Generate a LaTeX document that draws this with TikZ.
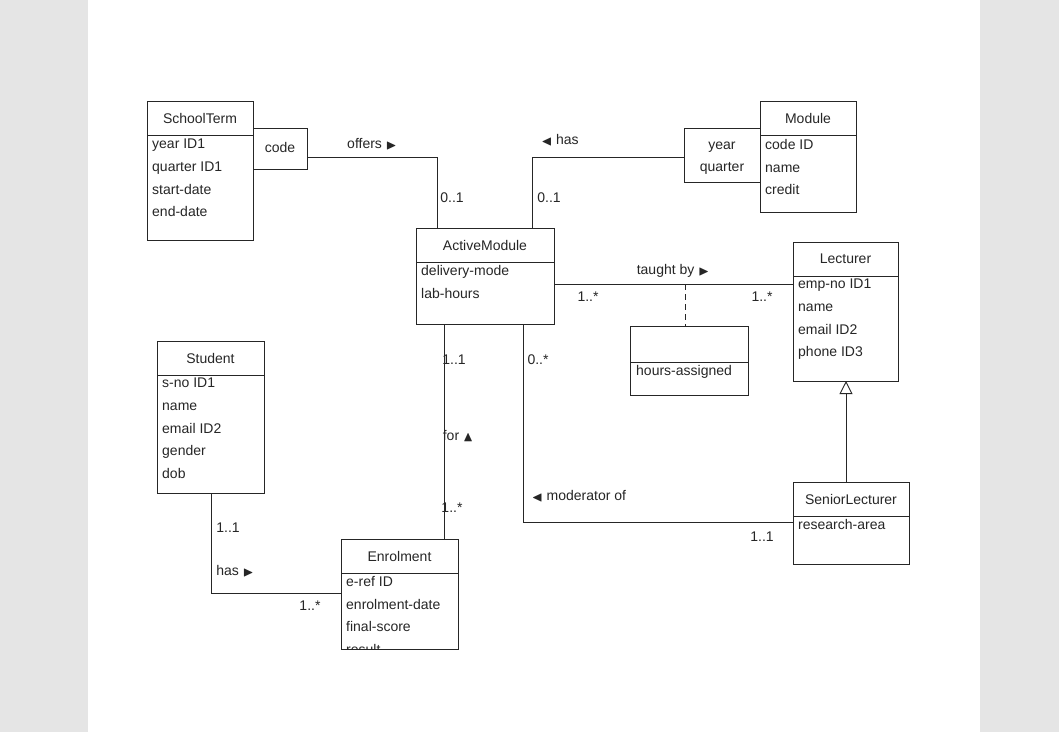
\documentclass[tikz,border=0pt]{standalone}
\usepackage{amssymb}
\usepackage{fontspec}
\setmainfont{Liberation Sans}
\usetikzlibrary{arrows.meta}
\begin{document}
\begin{tikzpicture}[x=1pt,y=-1pt,
  ln/.style={draw=black!85,line width=0.9pt},
  lbl/.style={inner sep=0pt,font=\fontsize{14}{16}\selectfont,text=black!85},
  ent/.style={inner sep=0pt,anchor=north west,align=left,font=\fontsize{14}{22.7}\selectfont,text=black!85}]
\fill[black!10] (0,0) rectangle (1059,732);
\fill[white] (88,0) rectangle (980,732);
\useasboundingbox (0,0) rectangle (1059,732);
\newcommand{\myent}[7]{% name x1 y1 x2 y2 ydiv title
  \draw[ln,fill=white] (#2,#3) rectangle (#4,#5);
  \draw[ln] (#2,#6) -- (#4,#6);
  \node[lbl] (#1) at ({(#2+#4)/2},{(#3+#6)/2}) {#7};}
\myent{st}{147}{101}{253}{240}{135}{SchoolTerm}
\node[ent] at (152,139) {year ID1\\quarter ID1\\start-date\\end-date};
\draw[ln,fill=white] (253,128) rectangle (307,169);
\node[lbl] (code) at (280,147) {code};
\myent{mod}{760}{101}{856}{212}{135}{Module}
\node[ent] at (765,139) {code ID\\name\\credit};
\draw[ln,fill=white] (684,128) rectangle (760,182);
\node[lbl,align=center,font=\fontsize{14}{22}\selectfont] (yq) at (722,158) {year\\quarter};
\myent{am}{416}{228}{554}{324}{262}{ActiveModule}
\node[ent] at (421,265) {delivery-mode\\lab-hours};
\myent{lec}{793}{242}{898}{381}{276}{Lecturer}
\node[ent] at (798,279) {emp-no ID1\\name\\email ID2\\phone ID3};
\myent{ha}{630}{326}{748}{395}{362}{}
\node[ent] at (636,365) {hours-assigned};
\myent{stu}{157}{341}{264}{493}{375}{Student}
\node[ent] at (162,378) {s-no ID1\\name\\email ID2\\gender\\dob};
\myent{enr}{341}{539}{458}{649}{573}{Enrolment}
\begin{scope}
\clip (341,573) rectangle (458,649);
\node[ent] at (346,576) {e-ref ID\\enrolment-date\\final-score\\result};
\end{scope}
\myent{sl}{793}{482}{909}{564}{516}{SeniorLecturer}
\node[ent] at (798,519) {research-area};
% connectors
\coordinate (c1) at (437,157);
\draw[ln] (307,157) -- (c1) -- (437,228);
\coordinate (c2) at (532,157);
\draw[ln] (684,157) -- (c2) -- (532,228);
\draw[ln] (554,284) -- (793,284);
\draw[ln,dash pattern=on 6pt off 4pt] (685,284) -- (685,326);
\draw[ln] (444,324) -- (444,539);
\coordinate (c3) at (523,522);
\draw[ln] (523,324) -- (c3) -- (793,522);
\coordinate (c4) at (211,593);
\draw[ln] (211,493) -- (c4) -- (341,593);
\draw[ln,-{Triangle[open,length=13pt,width=13pt,fill=white]}] (846,482) -- (846,381);
% labels
\node[lbl] at (372,144) {offers \raisebox{-0.5pt}{$\blacktriangleright$}};
\node[lbl] at (452,198) {0..1};
\node[lbl] at (560,140) {\raisebox{-0.5pt}{$\blacktriangleleft$} has};
\node[lbl] at (549,198) {0..1};
\node[lbl] at (673,271) {taught by \raisebox{-0.5pt}{$\blacktriangleright$}};
\node[lbl] at (588,297) {1..*};
\node[lbl] at (762,297) {1..*};
\node[lbl] at (454,360) {1..1};
\node[lbl] at (458,436) {for \raisebox{-0.5pt}{$\blacktriangle$}};
\node[lbl] at (452,508) {1..*};
\node[lbl] at (538,360) {0..*};
\node[lbl] at (579,496) {\raisebox{-0.5pt}{$\blacktriangleleft$} moderator of};
\node[lbl] at (762,537) {1..1};
\node[lbl] at (228,528) {1..1};
\node[lbl] at (235,571) {has \raisebox{-0.5pt}{$\blacktriangleright$}};
\node[lbl] at (310,606) {1..*};
\end{tikzpicture}
\end{document}
